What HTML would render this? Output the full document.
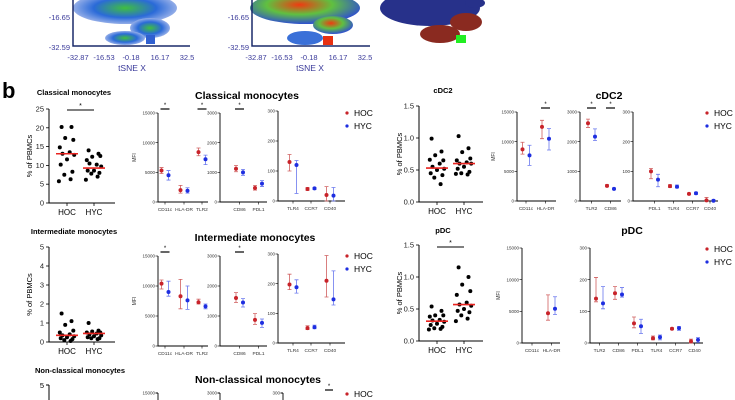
<!DOCTYPE html>
<html><head><meta charset="utf-8"><style>
html,body{margin:0;padding:0;background:#fff;}
svg{display:block;font-family:"Liberation Sans",sans-serif;}
</style></head><body>
<svg id="fig" width="735" height="400" viewBox="0 0 735 400" xmlns="http://www.w3.org/2000/svg">
<defs>
<radialGradient id="g1" cx="50%" cy="50%" r="60%"><stop offset="0" stop-color="#3fbf3f"/><stop offset="0.5" stop-color="#2a6ad8"/><stop offset="1" stop-color="#c8cff0"/></radialGradient>
<radialGradient id="g2" cx="45%" cy="40%" r="60%"><stop offset="0" stop-color="#f03a10"/><stop offset="0.5" stop-color="#60c040"/><stop offset="1" stop-color="#3050d0"/></radialGradient>
</defs>
<g id="tsne">
 <ellipse cx="125" cy="8" rx="52" ry="16" fill="url(#g1)"/>
 <ellipse cx="150" cy="28" rx="20" ry="10" fill="url(#g1)"/>
 <ellipse cx="125" cy="38" rx="20" ry="7" fill="url(#g1)"/>
 <rect x="146" y="35" width="9" height="9" fill="#3060d0"/>
 <ellipse cx="305" cy="8" rx="55" ry="16" fill="url(#g2)"/>
 <ellipse cx="333" cy="25" rx="20" ry="9" fill="url(#g2)"/>
 <ellipse cx="305" cy="38" rx="18" ry="7" fill="#3a70d8"/>
 <rect x="323" y="36" width="10" height="9" fill="#e83010"/>
 <ellipse cx="430" cy="8" rx="50" ry="18" fill="#27318a"/>
 <ellipse cx="475" cy="3" rx="10" ry="5" fill="#27318a"/>
 <ellipse cx="440" cy="34" rx="20" ry="9" fill="#8a2a20"/>
 <ellipse cx="466" cy="22" rx="16" ry="9" fill="#8a2a20"/>
 <rect x="456" y="35" width="10" height="8" fill="#22ee22"/>
 <g stroke="#1a2a6a" stroke-width="1.5" fill="none">
  <path d="M73 0V46H190"/><path d="M252 0V46H370"/>
 </g>
 <g font-size="7.5" fill="#3a3a9a" text-anchor="end">
  <text x="70" y="20">-16.65</text><text x="70" y="50">-32.59</text>
  <text x="249" y="20">-16.65</text><text x="249" y="50">-32.59</text>
 </g>
 <g font-size="7.5" fill="#3a3a9a" text-anchor="middle">
  <text x="78" y="60">-32.87</text><text x="104" y="60">-16.53</text><text x="131" y="60">-0.18</text><text x="160" y="60">16.17</text><text x="187" y="60">32.5</text>
  <text x="256" y="60">-32.87</text><text x="282" y="60">-16.53</text><text x="309" y="60">-0.18</text><text x="338" y="60">16.17</text><text x="365" y="60">32.5</text>
 </g>
 <g font-size="8.5" fill="#3a3a9a" text-anchor="middle"><text x="132" y="71">tSNE X</text><text x="310" y="71">tSNE X</text></g>
</g>
<text x="2" y="98" font-size="22" font-weight="bold">b</text>
<g id="plots"></g>
</svg>
<script>
// ---- data ----
const classHOC=[20.2,20.2,17.3,16.8,14.8,13.5,13.1,12.8,11.6,10.2,8.3,7.5,6.3,5.8];
const classHYC=[14,13.1,12.3,12.5,11.4,10.2,10.5,9.7,8.6,8.6,8,7.8,7,6.2];
const classMed=[13.1,9.3];
const interHOC=[1.5,1.1,0.9,0.6,0.5,0.4,0.35,0.3,0.25,0.2,0.15,0.1,0.05];
const interHYC=[1.0,0.6,0.55,0.5,0.5,0.45,0.4,0.35,0.3,0.25,0.2,0.2,0.15];
const interMed=[0.35,0.45];
const cdc2HOC=[0.99,0.79,0.73,0.65,0.66,0.6,0.55,0.52,0.5,0.45,0.42,0.38,0.28];
const cdc2HYC=[1.03,0.84,0.78,0.68,0.65,0.62,0.6,0.6,0.55,0.52,0.47,0.45,0.43,0.44];
const cdc2Med=[0.53,0.6];
const pdcHOC=[0.54,0.47,0.40,0.40,0.38,0.33,0.32,0.30,0.27,0.25,0.22,0.20,0.19,0.18];
const pdcHYC=[1.15,1.0,0.88,0.78,0.72,0.6,0.57,0.55,0.5,0.47,0.45,0.4,0.35,0.31];
const pdcMed=[0.31,0.57];
const jitter=[-6,5,-2,7,-8,3,-5,8,0,-7,6,-3,4,-9];
const ticks25=[0,5,10,15,20,25];
const ticks5=[0,1,2,3,4,5];
const ticks15=[0.0,0.5,1.0,1.5];
// MFI series: [cat, hocMean, hocLo, hocHi, hycMean, hycLo, hycHi]
const cmA=[["CD11c",5300,4800,5800,4500,3700,5300],["HLA-DR",2000,1500,2800,1900,1500,2400],["TLR2",8400,7800,9100,7200,6300,7900]];
const cmB=[["CD86",1120,1020,1230,1000,900,1100],["PDL1",470,400,560,620,520,720]];
const cmC=[["TLR4",130,100,155,120,25,135],["CCR7",40,35,45,42,38,45],["CD40",20,0,48,18,0,45]];
const imA=[["CD11c",10400,9500,11000,9000,8300,10800],["HLA-DR",8300,6200,11100,7600,6100,10000],["TLR2",7300,7000,7800,6600,6200,7000]];
const imB=[["CD86",1600,1450,1780,1450,1300,1580],["PDL1",870,720,1080,770,620,900]];
const imC=[["TLR4",197,180,232,188,168,213],["CCR7",50,45,58,53,48,60],["CD40",210,155,295,147,128,243]];
const dcA=[["CD11c",8700,7900,9900,7700,6000,9400],["HLA-DR",12500,10500,13600,10500,8600,12200]];
const dcB=[["TLR2",2620,2480,2760,2170,2040,2430],["CD86",510,480,550,410,380,440]];
const dcC=[["PDL1",100,75,110,72,48,90],["TLR4",50,45,55,48,44,54],["CCR7",24,21,27,26,22,30],["CD40",2,0,12,1,0,4]];
const pdA=[["CD11c",null,0,0,null,0,0],["HLA-DR",4700,3600,7600,5400,4500,7300]];
const pdB=[["TLR2",140,130,207,125,108,178],["CD86",157,138,178,153,145,175],["PDL1",62,48,82,53,30,75],["TLR4",15,10,22,18,10,25],["CCR7",45,42,48,47,40,52],["CD40",5,0,12,10,2,17]];
const mfiT15=[0,5000,10000,15000], mfiT3=[0,1000,2000,3000], mfiT300=[0,100,200,300];

const NS="http://www.w3.org/2000/svg";
const root=document.getElementById('plots');
function mk(tag,attrs,parent,txt){const e=document.createElementNS(NS,tag);for(const k in attrs)e.setAttribute(k,attrs[k]);if(txt!==undefined)e.textContent=txt;(parent||root).appendChild(e);return e;}
function scale(d0,d1,r0,r1){return v=>r0+(v-d0)*(r1-r0)/(d1-d0);}

function dotPlot(name,x0,yTop,yBot,xEnd,dmax,ticks,fmt,hoc,hyc,med,title,tY,sig){
  const g=mk('g',{});
  
  
  const y=scale(0,dmax,yBot,yTop);
  const cx=[x0+18,x0+45];
  mk('text',{x:(x0+xEnd)/2-8,y:tY,'font-size':7.5,'font-weight':'bold','text-anchor':'middle'},g,title);
  mk('path',{d:`M${x0} ${yTop}V${yBot}H${xEnd}`,stroke:'#000','stroke-width':1,fill:'none'},g);
  ticks.forEach(t=>{mk('line',{x1:x0-3,x2:x0,y1:y(t),y2:y(t),stroke:'#000','stroke-width':0.8},g);
    const tx=mk('text',{x:x0-5,y:y(t)+2.5,'font-size':7.5,'text-anchor':'end',fill:'#222'},g,fmt(t));});
  [0,1].forEach(i=>mk('line',{x1:cx[i],x2:cx[i],y1:yBot,y2:yBot+3,stroke:'#000','stroke-width':0.8},g));
  mk('text',{x:cx[0],y:yBot+12,'font-size':8,'text-anchor':'middle'},g,'HOC');
  mk('text',{x:cx[1],y:yBot+12,'font-size':8,'text-anchor':'middle'},g,'HYC');
  const yl=mk('text',{x:0,y:0,'font-size':7.5,'text-anchor':'middle',transform:`translate(${x0-17},${(yTop+yBot)/2}) rotate(-90)`},g,'% of PBMCs');
  [hoc,hyc].forEach((arr,gi)=>arr.forEach((v,i)=>{
    const c=mk('circle',{cx:cx[gi]+jitter[i%jitter.length]*0.9,cy:y(v),r:2,fill:'#000'},g);
    
    
  }));
  med.forEach((m,i)=>{const l=mk('line',{x1:cx[i]-11,x2:cx[i]+11,y1:y(m),y2:y(m),stroke:'#e8231f','stroke-width':1.6},g);
    
    });
  if(sig){mk('line',{x1:cx[0],x2:cx[1],y1:sig,y2:sig,stroke:'#000','stroke-width':1},g);
    mk('text',{x:(cx[0]+cx[1])/2,y:sig-2,'font-size':7,'text-anchor':'middle'},g,'*');}
}

function mfiSub(name,x0,yTop,yBot,xEnd,dmax,ticks,data,catX,mfi,sigs){
  const g=mk('g',{});
  
  
  const y=scale(0,dmax,yBot,yTop);
  mk('path',{d:`M${x0} ${yTop}V${yBot}H${xEnd}`,stroke:'#000','stroke-width':0.9,fill:'none'},g);
  ticks.forEach(t=>{mk('line',{x1:x0-2.5,x2:x0,y1:y(t),y2:y(t),stroke:'#000','stroke-width':0.6},g);
    mk('text',{x:x0-3,y:y(t)+1.6,'font-size':4.5,'text-anchor':'end',fill:'#333'},g,String(t));});
  if(mfi) mk('text',{x:0,y:0,'font-size':5,'text-anchor':'middle',fill:'#333',transform:`translate(${x0-22},${(yTop+yBot)/2}) rotate(-90)`},g,'MFI');
  data.forEach((d,i)=>{
    const c=catX[i];
    mk('line',{x1:c,x2:c,y1:yBot,y2:yBot+2.5,stroke:'#000','stroke-width':0.6},g);
    mk('text',{x:c,y:yBot+9,'font-size':4.8,'text-anchor':'middle',fill:'#333'},g,d[0]);
    [[d[1],d[2],d[3],'#c8232a',-3.5,'#d06060'],[d[4],d[5],d[6],'#1e2ee0',3.5,'#6a78ee']].forEach(s=>{
      if(s[0]===null)return;
      const xx=c+s[4];
      mk('path',{d:`M${xx} ${y(s[1])}V${y(s[2])}M${xx-2} ${y(s[1])}H${xx+2}M${xx-2} ${y(s[2])}H${xx+2}`,stroke:s[5],'stroke-width':0.8,fill:'none'},g);
      const m=mk('circle',{cx:xx,cy:y(s[0]),r:2,fill:s[3]},g);
      
      
    });
  });
  (sigs||[]).forEach(i=>{const c=catX[i];
    mk('line',{x1:c-4.5,x2:c+4.5,y1:yTop-4,y2:yTop-4,stroke:'#000','stroke-width':1.2},g);
    mk('text',{x:c,y:yTop-6,'font-size':6,'text-anchor':'middle'},g,'*');});
}
function legend(x,y){
  const g=mk('g',{});
  
  
  mk('circle',{cx:x,cy:y,r:1.6,fill:'#c8232a'},g);
  mk('text',{x:x+7,y:y+3,'font-size':8.5},g,'HOC');
  mk('circle',{cx:x,cy:y+13,r:1.6,fill:'#1e2ee0'},g);
  mk('text',{x:x+7,y:y+16,'font-size':8.5},g,'HYC');
}
function title(x,y,t,name){const e=mk('text',{x:x,y:y,'font-size':10.5,'font-weight':'bold','text-anchor':'middle'},root,t);
  
  }

// Row 1 classical
dotPlot('classical-dot-plot',49,109,203,115,25,ticks25,t=>String(t),classHOC,classHYC,classMed,'Classical monocytes',95,110);
title(247,99,'Classical monocytes','classical-mfi-title');
mfiSub('classical-mfi-a',158,113,202,208,15000,mfiT15,cmA,[165,184,202],true,[0,2]);
mfiSub('classical-mfi-b',220,113,202,267,3000,mfiT3,cmB,[239.5,258.5],false,[0]);
mfiSub('classical-mfi-c',278,111,201,345,300,mfiT300,cmC,[293,311,330],false,[]);
legend(347,113);
// Row 2 intermediate
dotPlot('intermediate-dot-plot',49,247,342,115,5,ticks5,t=>String(t),interHOC,interHYC,interMed,'Intermediate monocytes',234,null);
title(255,241,'Intermediate monocytes','intermediate-mfi-title');
mfiSub('intermediate-mfi-a',158,256,346,208,15000,mfiT15,imA,[165,184,202],true,[0]);
mfiSub('intermediate-mfi-b',220,256,346,267,3000,mfiT3,imB,[239.5,258.5],false,[0]);
mfiSub('intermediate-mfi-c',278,254,343,345,300,mfiT300,imC,[293,311,330],false,[]);
legend(347,256);
// Row 3 non-classical
const nc=mk('g',{});


mk('text',{x:80,y:373,'font-size':7.5,'font-weight':'bold','text-anchor':'middle'},nc,'Non-classical monocytes');
mk('path',{d:'M49 385V400M46 385H49',stroke:'#000','stroke-width':1,fill:'none'},nc);
mk('text',{x:44,y:388,'font-size':7.5,'text-anchor':'end'},nc,'5');
mk('text',{x:258,y:383,'font-size':10.5,'font-weight':'bold','text-anchor':'middle'},nc,'Non-classical monocytes');
[[158,'15000'],[220,'3000'],[283,'300']].forEach(a=>{
  mk('path',{d:`M${a[0]} 393V400M${a[0]-2.5} 393H${a[0]}`,stroke:'#000','stroke-width':0.9,fill:'none'},nc);
  mk('text',{x:a[0]-3,y:394.6,'font-size':4.5,'text-anchor':'end',fill:'#333'},nc,a[1]);});
mk('line',{x1:325,x2:333,y1:390,y2:390,stroke:'#000','stroke-width':1.2},nc);
mk('text',{x:329,y:388,'font-size':6,'text-anchor':'middle'},nc,'*');
mk('circle',{cx:347,cy:394,r:1.6,fill:'#c8232a'},nc);
mk('text',{x:354,y:397,'font-size':8.5},nc,'HOC');
// cDC2
dotPlot('cdc2-dot-plot',419,106,202,483,1.5,ticks15,t=>t.toFixed(1),cdc2HOC,cdc2HYC,cdc2Med,'cDC2',93,null);
title(609,99,'cDC2','cdc2-mfi-title');
mfiSub('cdc2-mfi-a',517,112,201,556,15000,mfiT15,dcA,[526,545.5],true,[1]);
mfiSub('cdc2-mfi-b',580,112,201,621,3000,mfiT3,dcB,[591.5,610.5],false,[0,1]);
mfiSub('cdc2-mfi-c',633,112,201,718,300,mfiT300,dcC,[654.5,673.5,692.5,710],false,[]);
legend(707,113);
// pDC
dotPlot('pdc-dot-plot',419,245,341,483,1.5,ticks15,t=>t.toFixed(1),pdcHOC,pdcHYC,pdcMed,'pDC',233,247);
title(632,234,'pDC','pdc-mfi-title');
mfiSub('pdc-mfi-a',522,248,343,560,15000,mfiT15,pdA,[532,551.5],true,[]);
mfiSub('pdc-mfi-b',590,248,343,703,300,mfiT300,pdB,[599.5,618.5,637.5,656.5,675.5,694.5],false,[]);
legend(707,249);
</script>
</body></html>
